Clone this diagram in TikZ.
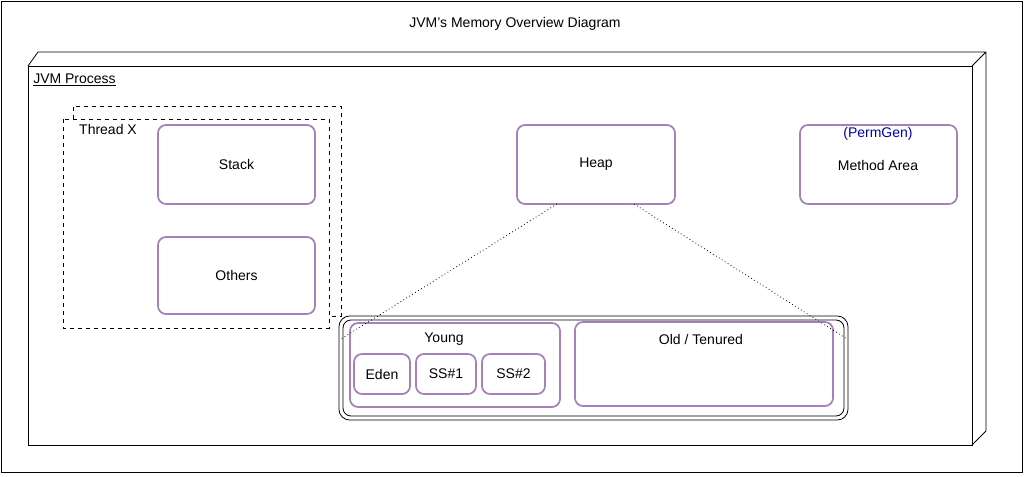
\documentclass[tikz,border=0pt]{standalone}
\usepackage{fontspec}
\setmainfont{Liberation Sans}
\begin{document}
\begin{tikzpicture}[x=0.75pt,y=-0.75pt,
  box/.style={draw=purple!40!violet!40!white,draw={rgb,255:red,166;green,128;blue,184},line width=1.3pt,rounded corners=6pt},
  txt/.style={font=\fontsize{10.5}{12}\selectfont,inner sep=0pt}]
\useasboundingbox (0,0) rectangle (1026,477);
\draw[line width=0.6pt] (1,1) rectangle (1022,472);
\node[txt] (title) at (515,24) {JVM's Memory Overview Diagram};
% 3D box
\draw[line width=0.6pt] (28,66) rectangle (972,445);
\draw[line width=0.6pt] (28,66) -- (38,52) -- (986,52) -- (986,431) -- (972,445) (972,66) -- (986,52);
\node[txt,anchor=west] (jvm) at (33,80) {\underline{JVM Process}};
% Thread X
\draw[dashed,line width=0.6pt] (63,119) rectangle (329,328);
\draw[dashed,line width=0.6pt] (73,119) -- (73,106) -- (341,106) -- (341,316) -- (329,316);
\node[txt] (thr) at (108,129) {Thread X};
\draw[box] (158,125) rectangle node[txt] (stack) {Stack} (315,204);
\draw[box] (158,237) rectangle node[txt] (others) {Others} (315,314);
\draw[box] (517,125) rectangle node[txt] (heap) {Heap} (675,204);
\draw[box] (800,125) rectangle (957,204);
\node[txt,text={rgb,255:red,0;green,0;blue,170}] (perm) at (878,134) {(PermGen)};
\node[txt] (meth) at (878,165) {Method Area};
% heap container
\draw[line width=0.6pt,rounded corners=8pt] (339,316) rectangle (848,420);
\draw[line width=0.6pt,rounded corners=6pt] (343,320) rectangle (844,416);
\draw[box] (350,323) rectangle (560,407);
\node[txt] (young) at (444,339) {Young};
\draw[box] (354,354) rectangle node[txt] (eden) {Eden} (410,394);
\draw[box] (416,354) rectangle node[txt] (ss1) {SS\#1} (476,394);
\draw[box] (482,354) rectangle node[txt] (ss2) {SS\#2} (545,394);
\draw[box] (575,322) rectangle (833,406);
\node[txt] (old) at (701,339) {Old / Tenured};
\coordinate (hl) at (557,204); \coordinate (hr) at (634,204);
\coordinate (cl) at (341,339); \coordinate (cr) at (847,339);
\draw[dotted,line width=0.6pt] (hl) -- (cl);
\draw[dotted,line width=0.6pt] (hr) -- (cr);
\end{tikzpicture}
\end{document}
